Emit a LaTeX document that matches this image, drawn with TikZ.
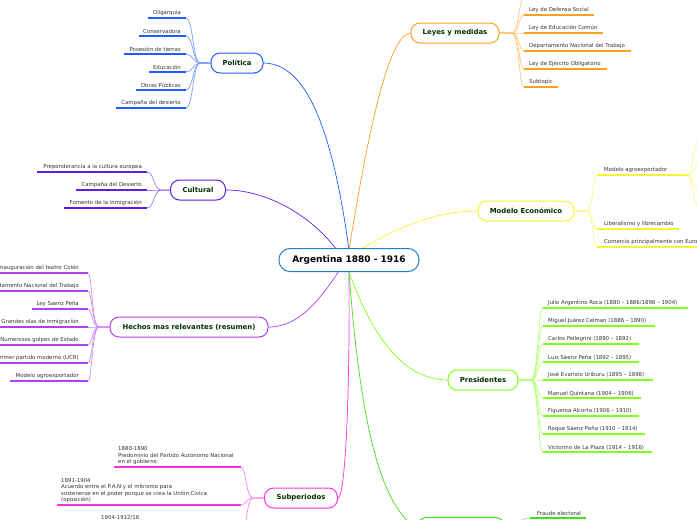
\documentclass[tikz,border=0pt]{standalone}
\usepackage{fontspec}
\setmainfont{DejaVu Sans}
\begin{document}
\begin{tikzpicture}[x=1pt,y=-1pt,
  main/.style={draw,rounded corners=9pt,line width=1pt,minimum height=20pt,font=\fontsize{6.9}{7.5}\selectfont\bfseries,text=black!70!green!60!black,fill=white,inner xsep=6pt},
  leaf/.style={font=\fontsize{5.4}{6.4}\selectfont,text=black!80,inner sep=1pt},
  ul/.style={line width=1.3pt},
  br/.style={line width=0.7pt}]
\definecolor{cblue}{HTML}{1E5CFF}
\definecolor{croot}{HTML}{2080D0}
\definecolor{cviol}{HTML}{5A20E6}
\definecolor{cpurp}{HTML}{B040F0}
\definecolor{cmag}{HTML}{FF30E0}
\definecolor{corg}{HTML}{FFA020}
\definecolor{cyel}{HTML}{F4F430}
\definecolor{cgrn}{HTML}{80FF20}
\definecolor{cgrn2}{HTML}{40E020}
\useasboundingbox (0,0) rectangle (697,520);
\clip (0,0) rectangle (697,520);

% connectors from centre
\draw[cblue,br] (349,250) .. controls (330,110) and (300,63) .. (263,63);
\draw[cviol,br] (345,262) .. controls (320,220) and (270,190) .. (226,190);
\draw[cpurp,br] (345,262) .. controls (320,300) and (300,327) .. (268,327);
\draw[cmag,br] (349,272) .. controls (350,400) and (345,498) .. (338,498);
\draw[corg,br] (349,250) .. controls (370,120) and (390,33) .. (411,33);
\draw[cyel,br] (360,250) .. controls (400,225) and (440,211) .. (478,211);
\draw[cgrn,br] (349,272) .. controls (370,330) and (400,380) .. (448,380);
\draw[cgrn2,br] (349,272) .. controls (360,420) and (380,510) .. (420,530);

\node[main,draw=croot,rounded corners=11pt,minimum height=23pt,minimum width=140pt,font=\fontsize{9}{10}\selectfont\bfseries,text=black] (root) at (349,260) {Argentina 1880 - 1916};

% Politica
\node[main,draw=cblue,minimum width=52pt] (pol) at (237,63) {Política};
\foreach \t/\y/\l [count=\i] in {Oligarquía/18/148,Conservadora/36/139,Posesión de tierras/54/124,Educación/72/149,Obras Públicas/90/136,Campaña del desierto/108/116}{
  \node[leaf,anchor=south east] (pl\i) at (182,\y-1) {\t};
  \draw[cblue,ul] (\l,\y) -- (186,\y);
  \draw[cblue!60,br] (pol.west) -- (200,63) .. controls (193,63) and (193,\y) .. (186,\y);
}
% Cultural
\node[main,draw=cviol,minimum width=55pt] (cul) at (198,190) {Cultural};
\foreach \t/\y/\l [count=\i] in {Preponderancia a la cultura europea/172/37,Campaña del Desierto/190/76,Fomento de la inmigración/208/64}{
  \node[leaf,anchor=south east] (cl\i) at (143,\y-1) {\t};
  \draw[cviol,ul] (\l,\y) -- (147,\y);
  \draw[cviol!60,br] (cul.west) -- (161,190) .. controls (154,190) and (154,\y) .. (147,\y);
}
% Hechos
\node[main,draw=cpurp,minimum width=158pt] (hec) at (189,327) {Hechos mas relevantes (resumen)};
\foreach \t/\y/\l [count=\i] in {Inauguración del teatro Colón/273/0,Departamento Nacional del Trabajo/291/0,Ley Saenz Peña/309/32,Grandes olas de inmigración/327/0,Numerosos golpes de Estado/345/0,Primer partido moderno (UCR)/363/0,Modelo agroexportador/381/10}{
  \node[leaf,anchor=south east] (hl\i) at (80,\y-1) {\t};
  \draw[cpurp,ul] (\l,\y) -- (88,\y);
  \draw[cpurp!60,br] (hec.west) -- (99,327) .. controls (92,327) and (92,\y) .. (88,\y);
}
% Subperiodos
\node[main,draw=cmag,minimum width=73pt] (sub) at (301,498) {Subperiodos};
\node[leaf,anchor=south west,align=left] (s1) at (117,466) {1880-1890\\Predominio del Partido Autónomo Nacional\\en el gobierno};
\draw[cmag,ul] (114,467) -- (241,467);
\node[leaf,anchor=south west,align=left] (s2) at (60,504) {1891-1904\\Acuerdo entre el P.A.N y el mitrismo para\\sostenerse en el poder porque se crea la Unión Cívica\\(oposición)};
\draw[cmag,ul] (57,505) -- (241,505);
\node[leaf,anchor=south west] (s3) at (100,521) {1904-1912/16};
\foreach \y in {467,505,540}{
  \draw[cmag!60,br] (sub.west) -- (253,498) .. controls (246,498) and (246,\y) .. (241,\y);
}
% Leyes
\node[main,draw=corg,minimum width=88pt] (ley) at (455,33) {Leyes y medidas};
\foreach \t/\y/\r [count=\i] in {Ley de Defensa Social/15/594,Ley de Educación Común/33/603,Departamento Nacional del Trabajo/51/631,Ley de Ejército Obligatorio/69/607,Subtopic/87/558}{
  \node[leaf,anchor=south west] (ll\i) at (528,\y-1) {\t};
  \draw[corg,ul] (524,\y) -- (\r,\y);
  \draw[corg!60,br] (ley.east) -- (512,33) .. controls (519,33) and (519,\y) .. (524,\y);
}
\draw[corg!60,br] (ley.east) -- (512,33) .. controls (519,33) and (519,-3) .. (524,-3);
\draw[corg,ul] (524,-3) -- (600,-3);
% Modelo Economico
\node[main,draw=cyel,minimum width=96pt] (eco) at (526,211) {Modelo Económico};
\foreach \t/\y/\r [count=\i] in {Modelo agroexportador/175/687,Liberalismo y librecambio/229/679,Comercio principalmente con Europa/247/720}{
  \node[leaf,anchor=south west] (el\i) at (603,\y-1) {\t};
  \draw[cyel,ul] (597,\y) -- (\r,\y);
  \draw[cyel!60,br] (eco.east) -- (586,211) .. controls (593,211) and (593,\y) .. (597,\y);
}
\foreach \y in {140,166,190,208}{
  \draw[cyel!60,br] (687,175) .. controls (693,175) and (693,\y) .. (700,\y);
}
% Presidentes
\node[main,draw=cgrn,minimum width=70pt] (pre) at (483,380) {Presidentes};
\foreach \t/\y/\r [count=\i] in {{Julio Argentino Roca (1880 – 1886/1898 – 1904)}/308/688,{Miguel Juárez Celman (1886 – 1890)}/326/655,{Carlos Pellegrini (1890 – 1892)}/344/639,{Luis Sáenz Peña (1892 – 1895)}/362/639,{José Evaristo Uriburu (1895 – 1898)}/380/653,{Manuel Quintana (1904 – 1906)}/398/641,{Figueroa Alcorta (1906 – 1910)}/416/639,{Roque Sáenz Peña (1910 – 1914)}/434/645,{Victorino de La Plaza (1914 – 1916)}/452/652}{
  \node[leaf,anchor=south west] (pr\i) at (547,\y-1) {\t};
  \draw[cgrn,ul] (543,\y) -- (\r,\y);
  \draw[cgrn!60,br] (pre.east) -- (531,380) .. controls (538,380) and (538,\y) .. (543,\y);
}
% bottom green
\node[main,draw=cgrn2,minimum width=87pt,anchor=north] (bot) at (461,517) {\phantom{X}};
\node[leaf,anchor=south west] (bl1) at (536,517) {Fraude electoral};
\draw[cgrn2,ul] (530,518) -- (586,518);
\draw[cgrn2!60,br] (505,527) .. controls (515,527) and (520,518) .. (530,518);
\end{tikzpicture}
\end{document}
